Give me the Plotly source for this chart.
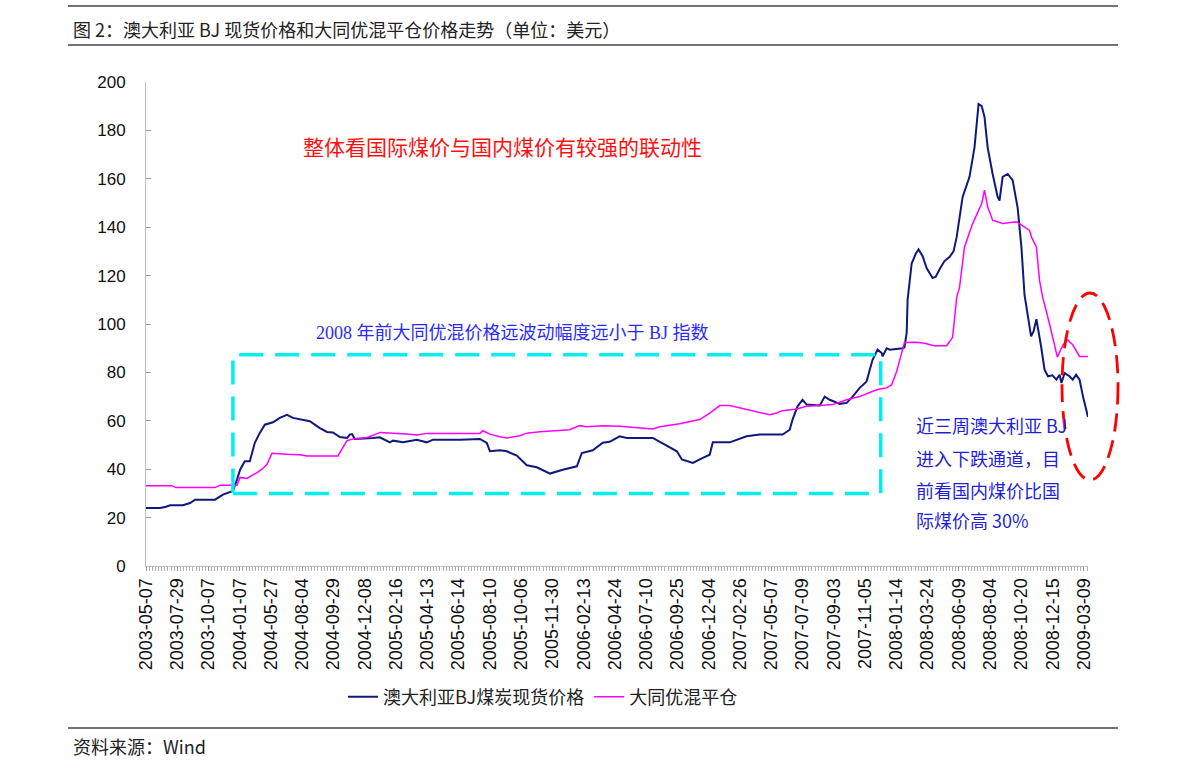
import plotly.graph_objects as go

# ---------------- data ----------------
tick_labels = [
    "2003-05-07", "2003-07-29", "2003-10-07", "2004-01-07", "2004-05-27", "2004-08-04",
    "2004-09-29", "2004-12-08", "2005-02-16", "2005-04-13", "2005-06-14", "2005-08-10",
    "2005-10-06", "2005-11-30", "2006-02-13", "2006-04-24", "2006-07-10", "2006-09-25",
    "2006-12-04", "2007-02-26", "2007-05-07", "2007-07-09", "2007-09-03", "2007-11-05",
    "2008-01-14", "2008-03-24", "2008-06-09", "2008-08-04", "2008-10-20", "2008-12-15",
    "2009-03-09",
]

# x positions are in category-label units (0 = 2003-05-07, 30 = 2009-03-09)
bj_x = [0.00, 0.45, 0.64, 0.77, 1.18, 1.41, 1.57, 2.21, 2.46, 2.69,
        2.78, 2.91, 3.01, 3.16, 3.32, 3.48, 3.64, 3.80, 4.06, 4.28,
        4.51, 4.70, 5.02, 5.24, 5.56, 5.79, 5.98, 6.20, 6.43, 6.52,
        6.59, 6.68, 7.26, 7.48, 7.80, 7.90, 8.22, 8.66, 8.98, 9.18,
        10.04, 10.68, 10.90, 11.00, 11.32, 11.54, 11.86, 12.18, 12.50, 12.92,
        13.33, 13.78, 13.94, 14.29, 14.61, 14.83, 15.15, 15.38, 16.21, 16.66,
        16.98, 17.14, 17.49, 17.81, 18.03, 18.13, 18.67, 19.21, 19.63, 20.36,
        20.59, 20.68, 20.84, 21.00, 21.13, 21.55, 21.71, 21.87, 22.19, 22.41,
        22.60, 22.83, 23.05, 23.15, 23.24, 23.40, 23.53, 23.56, 23.69, 23.79,
        24.20, 24.26, 24.33, 24.36, 24.49, 24.62, 24.71, 24.84, 24.97, 25.16,
        25.26, 25.40, 25.54, 25.70, 25.83, 25.93, 26.12, 26.34, 26.50, 26.63,
        26.73, 26.82, 26.92, 27.08, 27.24, 27.30, 27.40, 27.56, 27.72, 27.88,
        28.00, 28.10, 28.20, 28.31, 28.39, 28.48, 28.63, 28.74, 28.85, 28.99,
        29.12, 29.18, 29.22, 29.28, 29.38, 29.54, 29.64, 29.75, 29.86, 29.97,
        30.13]
bj_y = [24.0, 24.0, 24.5, 25.1, 25.1, 26.0, 27.4, 27.4, 29.5, 30.5,
        31.0, 35.7, 39.8, 43.3, 43.3, 50.9, 55.0, 58.4, 59.4, 61.2,
        62.5, 61.2, 60.5, 59.8, 57.0, 55.4, 55.2, 53.3, 52.9, 54.3,
        54.5, 52.5, 52.9, 53.2, 51.1, 51.8, 51.1, 52.2, 51.1, 52.2,
        52.2, 52.5, 50.9, 47.4, 47.8, 47.4, 45.6, 41.6, 40.8, 38.2,
        39.8, 41.2, 46.7, 47.8, 50.9, 51.3, 53.6, 52.9, 52.9, 49.5,
        47.4, 44.0, 42.6, 44.7, 46.0, 51.1, 51.1, 53.6, 54.3, 54.3,
        56.3, 60.5, 66.0, 68.7, 66.7, 66.3, 70.0, 68.7, 67.0, 67.4,
        70.0, 73.6, 76.3, 81.1, 85.2, 89.4, 88.0, 86.6, 90.0, 89.4,
        90.0, 90.4, 96.3, 110.0, 125.0, 129.0, 130.8, 128.0, 123.0, 119.0,
        119.5, 123.0, 126.0, 127.7, 130.0, 136.0, 152.5, 160.8, 173.0, 190.9,
        190.0, 185.6, 173.0, 162.0, 152.5, 151.0, 160.8, 162.0, 159.4, 148.0,
        131.8, 112.0, 104.5, 94.9, 97.0, 102.0, 90.7, 81.1, 78.4, 78.8,
        77.0, 78.0, 79.0, 75.6, 79.7, 78.4, 77.0, 79.0, 77.0, 70.0,
        61.6]

dt_x = [0.00, 0.83, 0.96, 2.21, 2.37, 2.91, 3.01, 3.23, 3.55, 3.71,
        3.87, 4.03, 4.51, 4.92, 5.15, 6.14, 6.30, 6.43, 6.62, 7.07,
        7.26, 7.48, 8.34, 8.66, 8.98, 10.68, 10.77, 11.00, 11.32, 11.54,
        11.96, 12.18, 12.60, 13.55, 13.87, 14.10, 14.61, 15.15, 16.21, 16.43,
        17.07, 17.71, 18.03, 18.35, 18.67, 18.99, 19.41, 19.95, 20.17, 20.36,
        20.81, 21.13, 21.55, 21.96, 22.41, 22.83, 23.24, 23.47, 23.69, 23.85,
        24.01, 24.17, 24.26, 24.65, 24.90, 25.22, 25.61, 25.80, 25.93, 26.02,
        26.18, 26.44, 26.60, 26.73, 26.82, 26.92, 27.08, 27.40, 27.85, 28.26,
        28.32, 28.48, 28.58, 28.68, 28.90, 29.06, 29.15, 29.33, 29.48, 29.64,
        29.86, 30.13]
dt_y = [33.2, 33.2, 32.4, 32.4, 33.4, 33.4, 36.6, 36.2, 38.6, 40.0,
        42.0, 46.6, 46.2, 46.0, 45.5, 45.5, 49.0, 51.8, 52.5, 53.1,
        54.0, 55.2, 54.5, 54.1, 54.8, 54.8, 55.9, 54.5, 53.4, 52.9,
        53.8, 54.9, 55.5, 56.3, 58.0, 57.5, 58.0, 57.7, 56.6, 57.5,
        58.8, 60.5, 63.2, 66.3, 66.3, 65.3, 64.3, 62.5, 63.2, 64.2,
        64.9, 66.0, 66.3, 66.7, 68.7, 70.0, 72.2, 73.1, 73.6, 74.9,
        80.4, 88.0, 92.4, 92.5, 92.0, 91.0, 91.0, 94.5, 111.0, 115.0,
        131.8, 141.5, 146.0, 149.8, 155.3, 148.4, 142.9, 141.5, 142.2, 138.7,
        136.0, 131.8, 118.0, 111.0, 100.0, 92.0, 86.3, 91.4, 93.5, 91.4,
        86.6, 86.6]

series_names = ["澳大利亚BJ煤炭现货价格", "大同优混平仓"]
y_ticks = [0, 20, 40, 60, 80, 100, 120, 140, 160, 180, 200]

# ---------------- figure ----------------
W, H = 1191, 776
ML, MR, MT, MB = 146, 103, 82, 210
PW, PH = W - ML - MR, H - MT - MB


def px_x(p):  # pixel -> paper x
    return (p - ML) / PW


def px_y(p):  # pixel -> paper y
    return (H - MB - p) / PH


CJK = "Noto Sans CJK SC, Liberation Sans, sans-serif"
ARIAL = "Liberation Sans, Arial, sans-serif"

fig = go.Figure()
fig.add_trace(go.Scatter(x=bj_x, y=bj_y, mode="lines", name=series_names[0],
                         line=dict(color="#10187a", width=2)))
fig.add_trace(go.Scatter(x=dt_x, y=dt_y, mode="lines", name=series_names[1],
                         line=dict(color="#ff00ff", width=1.5)))

fig.update_layout(
    width=W, height=H, autosize=False,
    margin=dict(l=ML, r=MR, t=MT, b=MB, pad=0),
    paper_bgcolor="white", plot_bgcolor="white",
    showlegend=True,
    legend=dict(orientation="h", x=px_x(343), xanchor="left", y=px_y(697), yanchor="middle",
                font=dict(family=CJK, size=18, color="#222"), bgcolor="rgba(0,0,0,0)",
                itemwidth=30, tracegroupgap=0),
    xaxis=dict(range=[0, 30.13], tickmode="array", tickvals=list(range(len(tick_labels))),
               ticktext=tick_labels, tickangle=-90, ticks="outside", ticklen=4,
               tickcolor="#9a9a9a", showline=True, linecolor="#bdbdbd", linewidth=1,
               showgrid=False, zeroline=False,
               tickfont=dict(family=ARIAL, size=18, color="#111"),
               minor=dict(tickmode="linear", tick0=0, dtick=0.1, ticks="outside",
                          ticklen=4, tickcolor="#b0b0b0", showgrid=False)),
    yaxis=dict(range=[0, 200], tickmode="array", tickvals=y_ticks, ticks="inside",
               ticklen=5, tickcolor="#9a9a9a", showline=True, linecolor="#bdbdbd",
               linewidth=1, showgrid=False, zeroline=False, ticklabelstandoff=16,
               tickfont=dict(family=ARIAL, size=17, color="#111")),
)

# frame lines (report style)
for yy in (6, 45, 728):
    fig.add_shape(type="line", xref="paper", yref="paper", x0=px_x(68), x1=px_x(1118),
                  y0=px_y(yy), y1=px_y(yy), line=dict(color="#444", width=1.5))

# cyan dashed box
fig.add_shape(type="rect", xref="x", yref="y", x0=2.78, x1=23.5, y0=30, y1=87.3,
              line=dict(color="#00f0f0", width=3.5, dash="24px,12px"))
# red dashed ellipse
fig.add_shape(type="circle", xref="paper", yref="paper", x0=px_x(1062), x1=px_x(1118),
              y0=px_y(480), y1=px_y(293), line=dict(color="#ff0000", width=2.8,
                                                   dash="18px,9px"))

# texts
fig.add_annotation(xref="paper", yref="paper", x=px_x(71), y=px_y(29), xanchor="left",
                   yanchor="middle", showarrow=False,
                   text="图 2：澳大利亚 BJ 现货价格和大同优混平仓价格走势（单位：美元）",
                   font=dict(family=CJK, size=18, color="#222"))
fig.add_annotation(xref="paper", yref="paper", x=px_x(71), y=px_y(746), xanchor="left",
                   yanchor="middle", showarrow=False, text="资料来源：Wind",
                   font=dict(family=CJK, size=18, color="#222"))
fig.add_annotation(x=11.41, y=173.5, showarrow=False, xanchor="center", yanchor="middle",
                   text="整体看国际煤价与国内煤价有较强的联动性",
                   font=dict(family=CJK, size=21, color="#ff1010"))
fig.add_annotation(x=11.72, y=96.3, showarrow=False, xanchor="center", yanchor="middle",
                   text="2008 年前大同优混价格远波动幅度远小于 BJ 指数",
                   font=dict(family="Liberation Serif, Noto Sans CJK SC, serif", size=18,
                             color="#2b2bff"))
right_lines = ["近三周澳大利亚 BJ", "进入下跌通道，目", "前看国内煤价比国", "际煤价高 30%"]
right_y = [58.1, 44.8, 31.6, 19.0]
for t, yv in zip(right_lines, right_y):
    fig.add_annotation(x=24.58, y=yv, showarrow=False, xanchor="left", yanchor="middle",
                       text=t, font=dict(family=CJK, size=18, color="#1f1fd8"))

fig.write_html("out.html")
